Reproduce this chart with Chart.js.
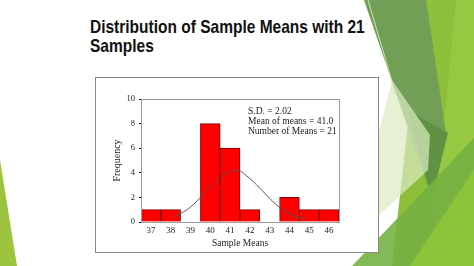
<!DOCTYPE html>
<html>
<head>
<meta charset="utf-8">
<script src="https://cdn.jsdelivr.net/npm/chart.js@4.4.0/dist/chart.umd.min.js"></script>
<style>
  body { margin:0; background:#fff; }
  #slide { position:relative; width:474px; height:266px; overflow:hidden; background:#fff; }
  #deco { position:absolute; left:0; top:0; }
  #title { position:absolute; left:90px; top:17px; font-family:"Liberation Sans", Arial, sans-serif;
           font-weight:bold; font-size:15.5px; line-height:16px; color:#111;
           transform:scaleY(1.2); transform-origin:0 0; white-space:nowrap; }
  #box { position:absolute; left:95px; top:77px; width:284px; height:176px; border:1px solid #8a8a8a;
         box-sizing:border-box; background:#fff; }
  #box canvas { display:block; }
  #stats { position:absolute; left:152px; top:28px; font-family:"Liberation Serif", serif;
           font-size:9.5px; line-height:10px; color:#222; white-space:nowrap; }
</style>
</head>
<body>
<div id="slide">
  <svg id="deco" width="474" height="266" viewBox="0 0 474 266">
    <polygon points="0,160 17,266 0,266" fill="#9cc43c"/>
    <polygon points="422,0 474,0 474,266 392,266" fill="#8dbf3b"/>
    <polygon points="456,0 474,0 474,266 430,266" fill="#9acb45" opacity="0.8"/>
    <polygon points="364,0 426,0 446,133 432,198" fill="#719f55"/>
    <polygon points="408,110 448,133 432,198" fill="#5f9343"/>
    <polygon points="352,266 474,138 474,266" fill="#76b144" opacity="0.9"/>
    <polygon points="474,170 474,266 410,266" fill="#8fc63a" opacity="0.9"/>
    <polygon points="392,80 430,135 428,170 352,240" fill="#dbebc2" opacity="0.7"/>
    <line x1="368" y1="0" x2="396" y2="95" stroke="#cfe3b5" stroke-width="1"/>
  </svg>
  <div id="title">Distribution of Sample Means with 21<br>Samples</div>
  <div id="box">
    <canvas id="myChart" width="282" height="174"></canvas>
    <div id="stats"></div>
  </div>
</div>
<script>
var categories = ['37','38','39','40','41','42','43','44','45','46'];
var frequencies = [1, 1, 0, 8, 6, 1, 0, 2, 1, 1];
var curveX = [36.5, 37, 37.5, 38, 38.5, 39, 39.5, 40, 40.5, 41, 41.5, 42, 42.5, 43, 43.5, 44, 44.5, 45, 45.5, 46, 46.5];
var curveY = [0.43, 0.7, 1.0, 1.45, 2.0, 2.6, 3.1, 3.6, 4.0, 4.2, 4.15, 3.75, 3.3, 2.75, 2.2, 1.65, 1.2, 0.85, 0.55, 0.35, 0.22];
var yTicks = [0, 2, 4, 6, 8, 10];
var statLines = ['S.D. = 2.02', 'Mean of means = 41.0', 'Number of Means = 21'];

document.getElementById('stats').innerHTML = statLines.join('<br>');

var curvePoints = [];
for (var i = 0; i < curveX.length; i++) {
    curvePoints.push({x: curveX[i], y: curveY[i]});
}

// gray frame around the plot area
var framePlugin = {
    id: 'frame',
    afterDraw: function(chart) {
        var a = chart.chartArea, c = chart.ctx;
        c.save();
        c.strokeStyle = '#9a9a9a';
        c.lineWidth = 1;
        c.strokeRect(Math.round(a.left) + 0.5, Math.round(a.top) + 0.5, Math.round(a.right - a.left), Math.round(a.bottom - a.top));
        c.restore();
    }
};

var serif = '"Liberation Serif", "Times New Roman", serif';
var ctx = document.getElementById('myChart');
var myChart = new Chart(ctx, {
    type: 'bar',
    data: {
        labels: categories,
        datasets: [{
            label: 'Frequency',
            data: frequencies,
            backgroundColor: '#ff0000',
            borderColor: '#7a0a0a',
            borderWidth: 1,
            order: 1
        }, {
            type: 'line',
            label: 'Normal',
            data: curvePoints,
            xAxisID: 'x2',
            borderColor: '#555555',
            borderWidth: 1,
            pointRadius: 0,
            tension: 0.4,
            cubicInterpolationMode: 'monotone',
            fill: false,
            order: 0
        }]
    },
    options: {
        responsive: false,
        animation: false,
        datasets: { bar: { barPercentage: 1, categoryPercentage: 1, grouped: false } },
        layout: { padding: { left: 0, top: 21, right: 39, bottom: 0 } },
        plugins: { legend: { display: false }, tooltip: { enabled: false } },
        scales: {
            x: {
                grid: { display: false, drawTicks: false },
                border: { display: true, color: '#9a9a9a' },
                ticks: { color: '#222', font: { family: serif, size: 9 }, padding: 3, maxRotation: 0 },
                title: { display: true, text: 'Sample Means', color: '#222', font: { family: serif, size: 9.5 }, padding: { top: 0, bottom: 3 } },
                afterFit: function(s) { s.height = 30; }
            },
            x2: {
                type: 'linear',
                display: false,
                min: 36.5,
                max: 46.5
            },
            y: {
                min: 0,
                max: 10,
                afterBuildTicks: function(s) { s.ticks = yTicks.map(function(v) { return {value: v}; }); },
                grid: { display: true, drawOnChartArea: false, tickLength: 2, tickColor: '#111' },
                border: { display: true, color: '#9a9a9a' },
                ticks: { color: '#222', font: { family: serif, size: 8.5 }, padding: 4 },
                title: { display: true, text: 'Frequency', color: '#222', font: { family: serif, size: 10 }, padding: { top: 15, bottom: 0 } },
                afterFit: function(s) { s.width = 45; }
            }
        }
    },
    plugins: [framePlugin]
});
</script>
</body>
</html>
